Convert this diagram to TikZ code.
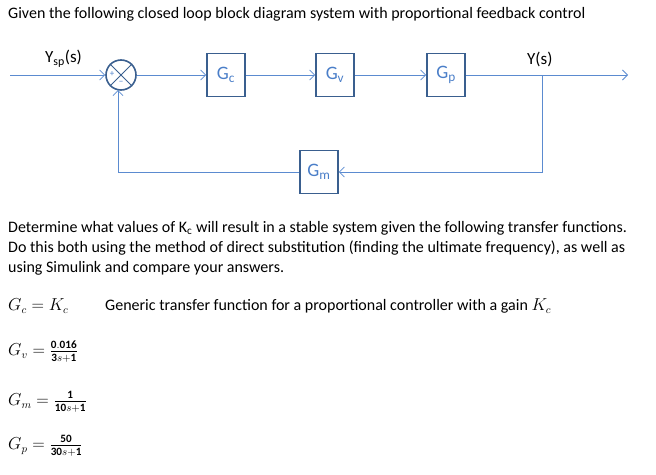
\documentclass[tikz,border=0pt]{standalone}
\usepackage{fontspec}
\setmainfont{Carlito}
\usetikzlibrary{arrows.meta}
\definecolor{ln}{HTML}{5B8BD0}
\definecolor{bx}{HTML}{3A5F8F}
\definecolor{tx}{HTML}{4A7EC8}
\begin{document}
\begin{tikzpicture}[x=1pt,y=-1pt,
  blk/.style={draw=bx,line width=1.6pt,minimum width=38pt,minimum height=43pt,inner sep=0pt,text=tx,font=\fontsize{19}{20}\selectfont},
  sig/.style={draw=ln,line width=0.8pt},
  arr/.style={sig,-{Straight Barb[length=5pt,width=10pt]}},
  txt/.style={anchor=west,inner sep=0pt,font=\fontsize{16}{18}\selectfont},
  eq/.style={anchor=west,inner sep=0pt,font=\fontsize{16}{18}\selectfont}]
\useasboundingbox (0,0) rectangle (656,474);
\node[txt] (title) at (8,14) {Given the following closed loop block diagram system with proportional feedback control};
\node[circle,draw=bx,line width=1.6pt,minimum size=30pt,inner sep=0pt] (sum) at (121,75) {};
\draw[bx,line width=0.8pt] (sum.north west)--(sum.south east) (sum.north east)--(sum.south west);
\node[inner sep=0pt,font=\fontsize{9}{9}\selectfont,text=tx] (pl) at (112,74) {+};
\node[inner sep=0pt,font=\fontsize{9}{9}\selectfont,text=tx] (mi) at (121,83) {−};
\node[blk] (gc) at (226,75) {G\textsubscript{c}};
\node[blk] (gv) at (335,75) {G\textsubscript{v}};
\node[blk] (gp) at (446,75) {G\textsubscript{p}};
\node[blk] (gm) at (319,172) {G\textsubscript{m}};
\coordinate (in) at (10,75);
\coordinate (split) at (542,75);
\coordinate (out) at (628,75);
\coordinate (fb) at (118,90);
\node[txt,font=\fontsize{17}{18}\selectfont] (ysp) at (45,59) {Y\textsubscript{sp}(s)};
\node[txt,font=\fontsize{17}{18}\selectfont] (ys) at (527,59) {Y(s)};
\draw[arr] (in)--(sum.west);
\draw[arr] (sum.east)--(gc.west|-sum.east);
\draw[arr] (gc.east|-sum)--(gv.west|-sum);
\draw[arr] (gv.east|-sum)--(gp.west|-sum);
\draw[arr] (gp.east|-sum)--(out);
\draw[arr] (split)--(split|-gm)--(gm.east);
\draw[arr] (gm.west)-|(fb);
\node[txt] (p1) at (8,228) {Determine what values of K\textsubscript{c} will result in a stable system given the following transfer functions.};
\node[txt] (p2) at (8,248) {Do this both using the method of direct substitution (finding the ultimate frequency), as well as};
\node[txt] (p3) at (8,268) {using Simulink and compare your answers.};
\node[eq] (e1) at (8,306) {$G_c=K_c$};
\node[txt] (gen) at (105,306) {Generic transfer function for a proportional controller with a gain $K_c$};
\node[eq] (e2) at (8,352) {$G_v=\frac{\mathbf{0.016}}{\mathbf{3}s\mathbf{+1}}$};
\node[eq] (e3) at (8,402) {$G_m=\frac{\mathbf{1}}{\mathbf{10}s\mathbf{+1}}$};
\node[eq] (e4) at (8,446) {$G_p=\frac{\mathbf{50}}{\mathbf{30}s\mathbf{+1}}$};
\end{tikzpicture}
\end{document}
